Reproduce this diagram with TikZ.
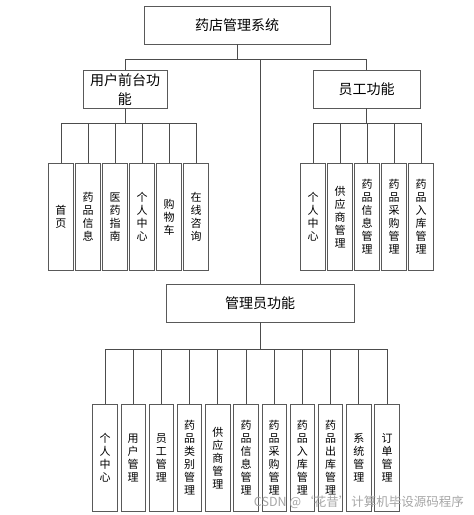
\documentclass[tikz,border=0pt]{standalone}
\usepackage{fontspec}
\newfontfamily\cjk{Noto Sans CJK SC}
\usepackage{tikz}
\usetikzlibrary{positioning}

\tikzset{
	head/.style={draw=black!65, line width=0.9pt, anchor=north, inner sep=0pt, minimum height=37.5, align=center, font=\cjk\fontsize{14}{19}\selectfont},
	leaf/.style={draw=black!65, line width=0.9pt, anchor=north, inner sep=0pt, minimum width=24.5, minimum height=107, align=center, font=\cjk\fontsize{11}{13}\selectfont},
	link/.style={draw=black!70, line width=0.9pt},
}

\begin{document}
\begin{tikzpicture}[x=1pt, y=-1pt]
	\def \top{163} % top of the upper leaves
	\def \low{404} % top of the admin leaves
	\def \gap{28.2}
	\useasboundingbox (0,0) rectangle (474,515);
	%heads
	\node[head, minimum width=186] (sys) at (237,6) {药店管理系统};
	\node[head, minimum width=84] (user) at (125,70) {用户前台功\\能};
	\node[head, minimum width=107] (staff) at (366.5,70) {员工功能};
	\node[head, minimum width=188] (admin) at (260,284) {管理员功能};
	%user leaves
	\node[leaf] (u1) at (61,\top) {首\\页};
	\node[leaf] (u2) at (88,\top) {药\\品\\信\\息};
	\node[leaf] (u3) at (115,\top) {医\\药\\指\\南};
	\node[leaf] (u4) at (142,\top) {个\\人\\中\\心};
	\node[leaf] (u5) at (169,\top) {购\\物\\车};
	\node[leaf] (u6) at (196,\top) {在\\线\\咨\\询};
	%staff leaves
	\node[leaf] (s1) at (313,\top) {个\\人\\中\\心};
	\node[leaf] (s2) at (340,\top) {供\\应\\商\\管\\理};
	\node[leaf] (s3) at (367,\top) {药\\品\\信\\息\\管\\理};
	\node[leaf] (s4) at (394,\top) {药\\品\\采\\购\\管\\理};
	\node[leaf] (s5) at (421,\top) {药\\品\\入\\库\\管\\理};
	%admin leaves
	\node[leaf] (a1) at ({105 + 0*\gap},\low) {个\\人\\中\\心};
	\node[leaf] (a2) at ({105 + 1*\gap},\low) {用\\户\\管\\理};
	\node[leaf] (a3) at ({105 + 2*\gap},\low) {员\\工\\管\\理};
	\node[leaf] (a4) at ({105 + 3*\gap},\low) {药\\品\\类\\别\\管\\理};
	\node[leaf] (a5) at ({105 + 4*\gap},\low) {供\\应\\商\\管\\理};
	\node[leaf] (a6) at ({105 + 5*\gap},\low) {药\\品\\信\\息\\管\\理};
	\node[leaf] (a7) at ({105 + 6*\gap},\low) {药\\品\\采\\购\\管\\理};
	\node[leaf] (a8) at ({105 + 7*\gap},\low) {药\\品\\入\\库\\管\\理};
	\node[leaf] (a9) at ({105 + 8*\gap},\low) {药\\品\\出\\库\\管\\理};
	\node[leaf] (a10) at ({105 + 9*\gap},\low) {系\\统\\管\\理};
	\node[leaf] (a11) at ({105 + 10*\gap},\low) {订\\单\\管\\理};
	%making lines
	\coordinate (sbus) at (237,59);
	\draw[link] (sys.south) -- (sbus);
	\draw[link] (sbus) -| (user.north);
	\draw[link] (sbus) -| (staff.north);
	\draw[link] (sbus) -| (admin.north);
	\coordinate (ubus) at (125,123);
	\draw[link] (user.south) -- (ubus);
	\draw[link] (ubus) -| (u1.north);
	\draw[link] (ubus) -| (u2.north);
	\draw[link] (ubus) -| (u3.north);
	\draw[link] (ubus) -| (u4.north);
	\draw[link] (ubus) -| (u5.north);
	\draw[link] (ubus) -| (u6.north);
	\coordinate (tbus) at (366.5,123);
	\draw[link] (staff.south) -- (tbus);
	\draw[link] (tbus) -| (s1.north);
	\draw[link] (tbus) -| (s2.north);
	\draw[link] (tbus) -| (s3.north);
	\draw[link] (tbus) -| (s4.north);
	\draw[link] (tbus) -| (s5.north);
	\coordinate (abus) at (260,349);
	\draw[link] (admin.south) -- (abus);
	\draw[link] (abus) -| (a1.north);
	\draw[link] (abus) -| (a2.north);
	\draw[link] (abus) -| (a3.north);
	\draw[link] (abus) -| (a4.north);
	\draw[link] (abus) -| (a5.north);
	\draw[link] (abus) -| (a6.north);
	\draw[link] (abus) -| (a7.north);
	\draw[link] (abus) -| (a8.north);
	\draw[link] (abus) -| (a9.north);
	\draw[link] (abus) -| (a10.north);
	\draw[link] (abus) -| (a11.north);
	% watermark
	\node[anchor=east, text=black!35, font=\cjk\fontsize{12.5}{14}\selectfont, inner sep=0pt] (mark) at (464,502) {CSDN @‘花昔’计算机毕设源码程序};
\end{tikzpicture}
\end{document}
